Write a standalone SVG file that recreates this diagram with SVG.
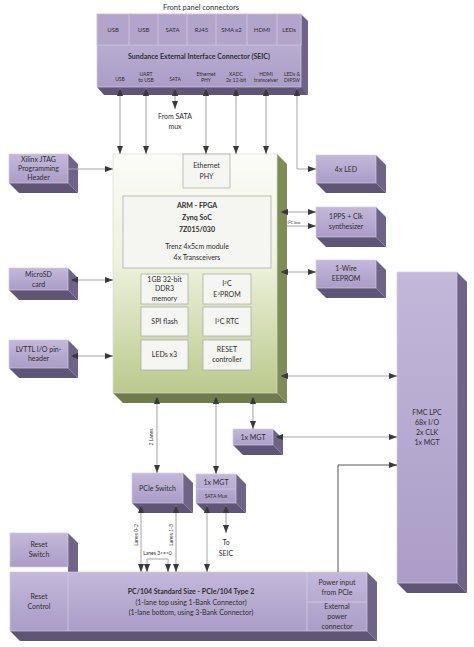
<svg xmlns="http://www.w3.org/2000/svg" width="474" height="647" viewBox="0 0 474 647">
<defs>
<linearGradient id="lav" x1="0" y1="0" x2="0" y2="1"><stop offset="0" stop-color="#c3b8da"/><stop offset="1" stop-color="#ab9dc7"/></linearGradient>
<linearGradient id="grn" x1="0" y1="0" x2="0" y2="1"><stop offset="0" stop-color="#fbfcf7"/><stop offset="0.45" stop-color="#eef2dd"/><stop offset="1" stop-color="#bac98c"/></linearGradient>
<marker id="a" markerUnits="userSpaceOnUse" markerWidth="8" markerHeight="6" refX="8" refY="3" orient="auto-start-reverse"><path d="M0,0 L8,3 L0,6 z" fill="#3a3a3a"/></marker>
</defs>
<style>
.face{fill:url(#lav);stroke:#d2cae2;stroke-width:0.7}
.side{fill:#6f6487}
.bot{fill:#5f5577}
.gside{fill:#7e8d58}
.gbot{fill:#6e7c4a}
.in{fill:#f5f5f1;stroke:#a5a5a5;stroke-width:0.7}
.div{stroke:#d2cae2;stroke-width:0.8;fill:none}
text{font-family:Lato,"Open Sans","Liberation Sans",sans-serif;fill:#2e2e2e;text-anchor:middle}
.t{font-size:7px}
.s{font-size:6px}
.xs{font-size:5px}
.b{font-weight:bold}
.c{stroke:#a3a3a3;stroke-width:1;fill:none}
.cd{stroke:#555;stroke-width:1;fill:none}
</style>

<text x="201" y="10" style="font-size:7.5px">Front panel connectors</text>

<g id="seic">
<polygon class="side" points="301,14 308,21 308,95 301,88"/>
<polygon class="bot" points="97,87 301,87 308,95 104,95"/>
<rect class="face" x="97" y="14" width="204" height="73"/>
<rect x="97" y="14" width="204" height="31" fill="#b2a4cb" stroke="#d2cae2" stroke-width="0.7"/>
<path class="div" d="M129,14V45M158,14V45M187,14V45M216,14V45M247,14V45M277,14V45"/>
<text class="s" x="113" y="32">USB</text>
<text class="s" x="143.5" y="32">USB</text>
<text class="s" x="172.5" y="32">SATA</text>
<text class="s" x="201.5" y="32">RJ45</text>
<text class="s" x="231.5" y="32">SMA x2</text>
<text class="s" x="262" y="32">HDMI</text>
<text class="s" x="289" y="32">LEDs</text>
<text class="b" x="199" y="59" style="font-size:7px">Sundance External Interface Connector (SEIC)</text>
<text class="xs" x="120" y="81">USB</text>
<text class="xs" x="146" y="76">UART</text><text class="xs" x="146" y="82">to USB</text>
<text class="xs" x="175" y="81">SATA</text>
<text class="xs" x="206" y="76">Ethernet</text><text class="xs" x="206" y="82">PHY</text>
<text class="xs" x="236" y="76">XADC</text><text class="xs" x="236" y="82">2x 12-bit</text>
<text class="xs" x="266" y="76">HDMI</text><text class="xs" x="266" y="82">transceiver</text>
<text class="xs" x="292" y="76">LEDs &amp;</text><text class="xs" x="292" y="82">DIPSW</text>
</g>

<g id="fpga">
<polygon class="gside" points="277,154 287,164 287,403 277,393"/>
<polygon class="gbot" points="113,393 277,393 287,403 123,403"/>
<rect x="113" y="154" width="164" height="239" fill="url(#grn)" stroke="#d8dcc8" stroke-width="0.7"/>
</g>
<g id="ethphy">
<rect class="in" x="183" y="154" width="47" height="34"/>
<text class="t" x="206.5" y="168">Ethernet</text>
<text class="t" x="206.5" y="179">PHY</text>
</g>
<g id="soc">
<rect class="in" x="123" y="196" width="148" height="72"/>
<text class="t b" x="197" y="208">ARM - FPGA</text>
<text class="t b" x="197" y="220">Zynq SoC</text>
<text class="t b" x="197" y="232">7Z015/030</text>
<text class="t" x="197" y="249">Trenz 4x5cm module</text>
<text class="t" x="197" y="260">4x Transceivers</text>
</g>
<g id="ddr3">
<rect class="in" x="141" y="274" width="47" height="30"/>
<text class="t" x="164.5" y="282">1GB 32-bit</text>
<text class="t" x="164.5" y="291">DDR3</text>
<text class="t" x="164.5" y="301">memory</text>
</g>
<g id="eeprom">
<rect class="in" x="203" y="274" width="48" height="30"/>
<text class="t" x="227" y="286">I<tspan dy="-2.5" style="font-size:4.5px">2</tspan><tspan dy="2.5">C</tspan></text>
<text class="t" x="227" y="297">E<tspan dy="-2.5" style="font-size:4.5px">2</tspan><tspan dy="2.5">PROM</tspan></text>
</g>
<g id="spi">
<rect class="in" x="141" y="307" width="47" height="29"/>
<text class="t" x="164.5" y="324">SPI flash</text>
</g>
<g id="rtc">
<rect class="in" x="203" y="307" width="48" height="29"/>
<text class="t" x="227" y="324">I<tspan dy="-2.5" style="font-size:4.5px">2</tspan><tspan dy="2.5">C RTC</tspan></text>
</g>
<g id="leds3">
<rect class="in" x="141" y="340" width="47" height="30"/>
<text class="t" x="164.5" y="357">LEDs x3</text>
</g>
<g id="reset">
<rect class="in" x="203" y="340" width="48" height="30"/>
<text class="t" x="227" y="352">RESET</text>
<text class="t" x="227" y="362">controller</text>
</g>

<g id="jtag">
<polygon class="side" points="68,154 78,164 78,193 68,183"/>
<polygon class="bot" points="9,183 68,183 78,193 19,193"/>
<rect class="face" x="9" y="154" width="59" height="29"/>
<text class="t" x="38.5" y="162">Xilinx JTAG</text>
<text class="t" x="38.5" y="171">Programming</text>
<text class="t" x="38.5" y="180">Header</text>
</g>
<g id="microsd">
<polygon class="side" points="68,268 78,278 78,300 68,290"/>
<polygon class="bot" points="9,290 68,290 78,300 19,300"/>
<rect class="face" x="9" y="268" width="59" height="22"/>
<text class="t" x="38.5" y="277">MicroSD</text>
<text class="t" x="38.5" y="287">card</text>
</g>
<g id="lvttl">
<polygon class="side" points="68,340 78,350 78,378 68,368"/>
<polygon class="bot" points="9,368 68,368 78,378 19,378"/>
<rect class="face" x="9" y="340" width="59" height="28"/>
<text class="t" x="38.5" y="352">LVTTL I/O pin-</text>
<text class="t" x="38.5" y="361">header</text>
</g>

<g id="led4">
<polygon class="side" points="376,155 386,165 386,193 376,183"/>
<polygon class="bot" points="316,183 376,183 386,193 326,193"/>
<rect class="face" x="316" y="155" width="60" height="28"/>
<text class="t" x="346" y="172">4x LED</text>
</g>
<g id="pps">
<polygon class="side" points="376,207 386,217 386,247 376,237"/>
<polygon class="bot" points="316,237 376,237 386,247 326,247"/>
<rect class="face" x="316" y="207" width="60" height="30"/>
<text class="t" x="346" y="219">1PPS + Clk</text>
<text class="t" x="346" y="229">synthesizer</text>
</g>
<g id="onewire">
<polygon class="side" points="376,260 386,270 386,298 376,288"/>
<polygon class="bot" points="316,288 376,288 386,298 326,298"/>
<rect class="face" x="316" y="260" width="60" height="28"/>
<text class="t" x="346" y="271">1-Wire</text>
<text class="t" x="346" y="281">EEPROM</text>
</g>
<g id="fmc">
<polygon class="side" points="457,272 467,282 467,593 457,583"/>
<polygon class="bot" points="397,583 457,583 467,593 407,593"/>
<rect class="face" x="397" y="272" width="60" height="311"/>
<text class="t" x="427" y="415">FMC LPC</text>
<text class="t" x="427" y="425">68x I/O</text>
<text class="t" x="427" y="435">2x CLK</text>
<text class="t" x="427" y="445">1x MGT</text>
</g>
<g id="mgt1">
<polygon class="side" points="273,429 283,439 283,455 273,445"/>
<polygon class="bot" points="233,445 273,445 283,455 243,455"/>
<rect class="face" x="233" y="429" width="40" height="16"/>
<text class="t" x="253" y="440">1x MGT</text>
</g>
<g id="pcieswitch">
<polygon class="side" points="183,473 193,483 193,513 183,503"/>
<polygon class="bot" points="132,503 183,503 193,513 142,513"/>
<rect class="face" x="132" y="473" width="51" height="30"/>
<text class="t" x="157.5" y="491">PCIe Switch</text>
</g>
<g id="satamux">
<polygon class="side" points="236,474 246,484 246,513 236,503"/>
<polygon class="bot" points="196,503 236,503 246,513 206,513"/>
<rect class="face" x="196" y="474" width="40" height="29"/>
<line class="div" x1="196" y1="489" x2="236" y2="489"/>
<text class="t" x="216" y="485">1x MGT</text>
<text class="xs" x="216" y="498">SATA Mux</text>
</g>
<g id="resetswitch">
<polygon class="side" points="68,533 78,543 78,572 68,572"/>
<rect class="face" x="10" y="533" width="58" height="34"/>
<text class="t" x="39" y="547">Reset</text>
<text class="t" x="39" y="557">Switch</text>
</g>
<g id="pc104">
<polygon class="side" points="367,572 377,582 377,641 367,631"/>
<polygon class="bot" points="10,631 367,631 377,641 20,641"/>
<rect class="face" x="10" y="572" width="357" height="59"/>
<path class="div" d="M68,572V631M307,572V631M307,602H367"/>
<text class="t" x="39" y="599">Reset</text>
<text class="t" x="39" y="609">Control</text>
<text class="t b" x="191" y="594">PC/104 Standard Size -  PCIe/104 Type 2</text>
<text class="t" x="191" y="605">(1-lane top using 1-Bank Connector)</text>
<text class="t" x="191" y="615">(1-lane bottom, using 3-Bank Connector)</text>
<text class="t" x="337" y="585">Power input</text>
<text class="t" x="337" y="595">from PCIe</text>
<text class="t" x="337" y="609">External</text>
<text class="t" x="337" y="619">power</text>
<text class="t" x="337" y="629">connector</text>
</g>

<g id="connectors">
<line class="c" x1="120" y1="88" x2="120" y2="154" marker-start="url(#a)" marker-end="url(#a)"/>
<line class="c" x1="146" y1="88" x2="146" y2="154" marker-start="url(#a)" marker-end="url(#a)"/>
<line class="c" x1="175" y1="88" x2="175" y2="109" marker-start="url(#a)" marker-end="url(#a)"/>
<line class="c" x1="206" y1="88" x2="206" y2="154" marker-start="url(#a)" marker-end="url(#a)"/>
<line class="c" x1="236" y1="88" x2="236" y2="154" marker-start="url(#a)" marker-end="url(#a)"/>
<line class="c" x1="266" y1="88" x2="266" y2="154" marker-start="url(#a)" marker-end="url(#a)"/>
<path class="c" d="M297,88V169H316" marker-start="url(#a)" marker-end="url(#a)"/>
<line class="c" x1="68" y1="169" x2="113" y2="169" marker-end="url(#a)"/>
<line class="c" x1="70" y1="280" x2="113" y2="280" marker-start="url(#a)" marker-end="url(#a)"/>
<line class="c" x1="70" y1="356" x2="113" y2="356" marker-start="url(#a)" marker-end="url(#a)"/>
<line class="c" x1="280" y1="212" x2="316" y2="212" marker-start="url(#a)" marker-end="url(#a)"/>
<line class="c" x1="287" y1="226" x2="316" y2="226" marker-end="url(#a)"/>
<line class="c" x1="280" y1="272" x2="316" y2="272" marker-start="url(#a)" marker-end="url(#a)"/>
<line class="c" x1="280" y1="376" x2="397" y2="376" marker-start="url(#a)" marker-end="url(#a)"/>
<line class="c" x1="253" y1="396" x2="253" y2="429" marker-start="url(#a)" marker-end="url(#a)"/>
<line class="c" x1="275" y1="437" x2="397" y2="437" marker-start="url(#a)" marker-end="url(#a)"/>
<path class="cd" d="M338,572V465H397" marker-end="url(#a)"/>
<line class="c" x1="157" y1="396" x2="157" y2="473" marker-start="url(#a)" marker-end="url(#a)"/>
<line class="c" x1="216" y1="396" x2="216" y2="474" marker-start="url(#a)" marker-end="url(#a)"/>
<line class="c" x1="141" y1="505" x2="141" y2="572" marker-start="url(#a)" marker-end="url(#a)"/>
<line class="c" x1="176" y1="505" x2="176" y2="572" marker-start="url(#a)" marker-end="url(#a)"/>
<path class="c" d="M147,572V559H168V572" marker-start="url(#a)" marker-end="url(#a)"/>
<line class="c" x1="207" y1="505" x2="207" y2="572" marker-start="url(#a)" marker-end="url(#a)"/>
<line class="c" x1="226" y1="505" x2="226" y2="533" marker-start="url(#a)" marker-end="url(#a)"/>
</g>

<g id="labels">
<text class="t" x="175" y="119">From SATA</text>
<text class="t" x="175" y="129">mux</text>
<text x="294" y="224" style="font-size:4px">I<tspan dy="-1.5" style="font-size:3px">2</tspan><tspan dy="1.5">C bus</tspan></text>
<text class="xs" transform="translate(153,437) rotate(-90)">2 Lanes</text>
<text class="xs" transform="translate(138,535) rotate(-90)">Lanes 0-2</text>
<text class="xs" transform="translate(173,535) rotate(-90)">Lanes 1-3</text>
<text class="xs" x="157.5" y="555">Lanes 3&lt;=&gt;0</text>
<text class="t" x="226" y="545">To</text>
<text class="t" x="226" y="556">SEIC</text>
</g>
</svg>
